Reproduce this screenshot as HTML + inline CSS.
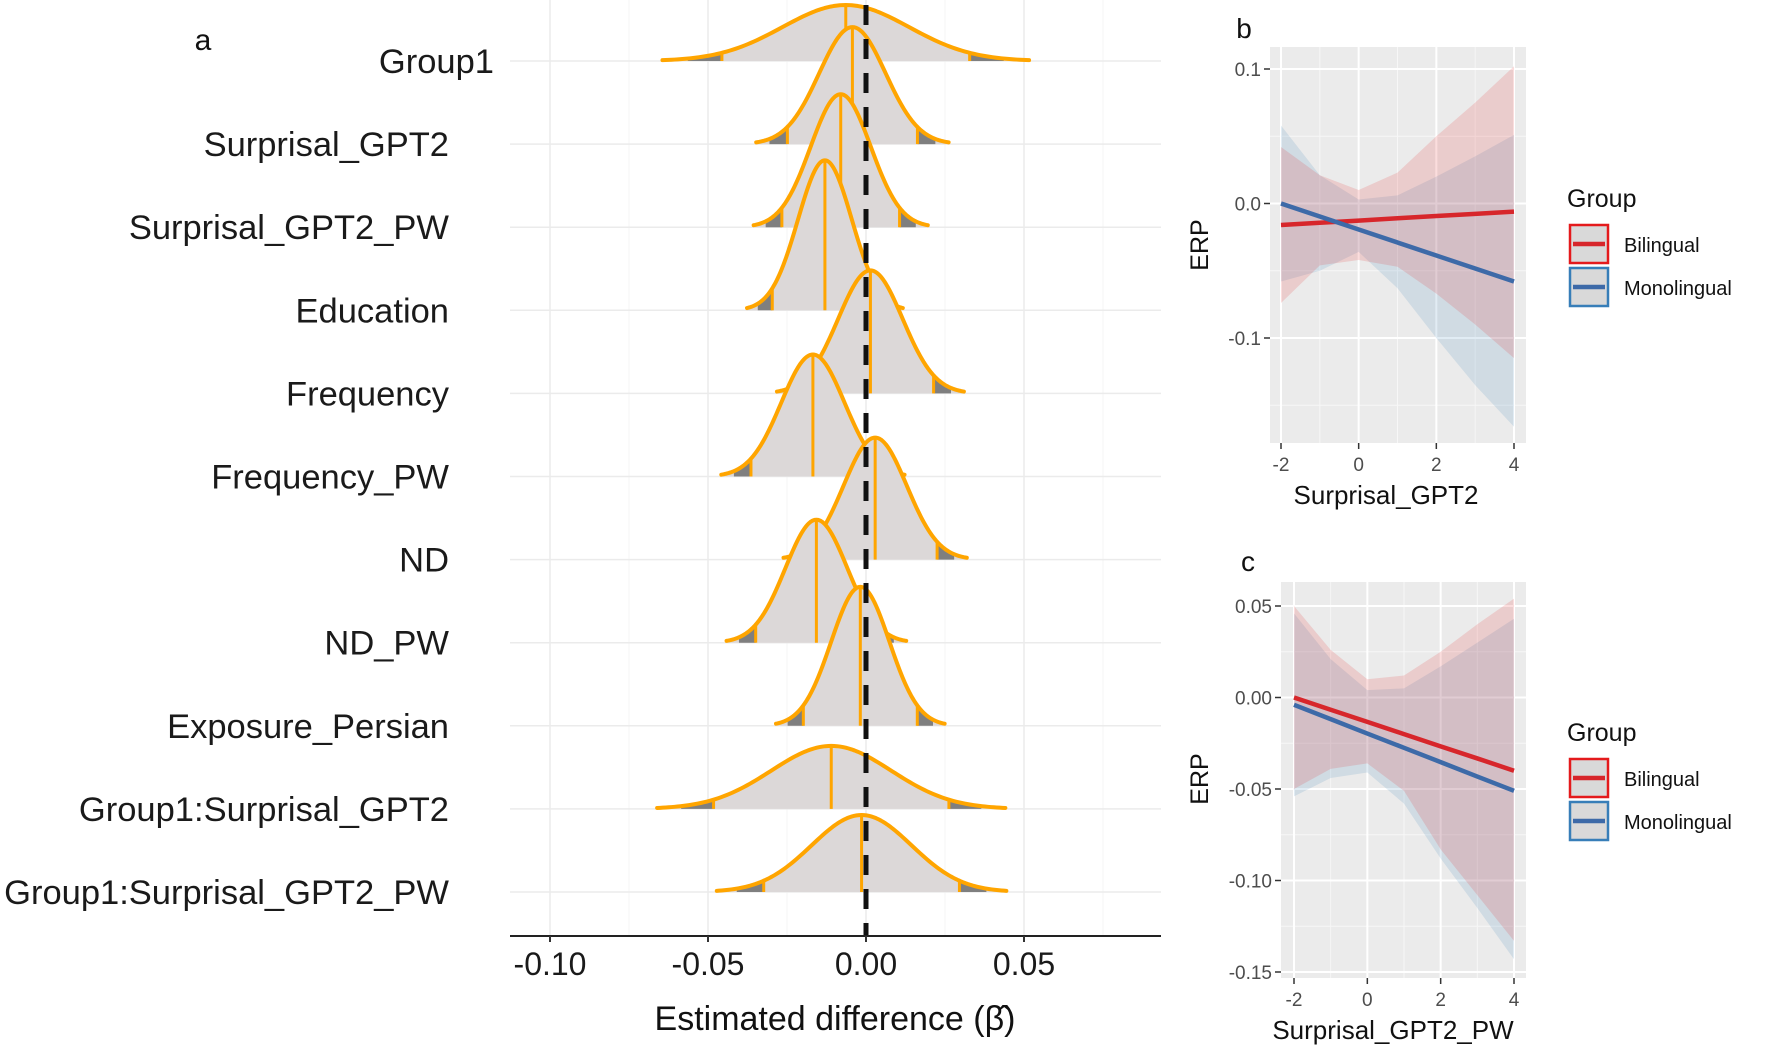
<!DOCTYPE html>
<html><head><meta charset="utf-8"><style>
html,body{margin:0;padding:0;background:#fff}
svg{display:block;font-family:"Liberation Sans",Arial,sans-serif}
</style></head><body>
<svg id="s" width="1770" height="1048" viewBox="0 0 1770 1048" xmlns="http://www.w3.org/2000/svg"></svg>
<script>
// ---- panel a data ----
const termNames = ["Group1","Surprisal_GPT2","Surprisal_GPT2_PW","Education","Frequency","Frequency_PW","ND","ND_PW","Exposure_Persian","Group1:Surprisal_GPT2","Group1:Surprisal_GPT2_PW"];
const termMeans = [-0.0064,-0.0043,-0.008,-0.013,0.0014,-0.0168,0.0029,-0.0157,-0.0018,-0.011,-0.0014];
const termSds = [0.020,0.0105,0.0095,0.0085,0.0102,0.0100,0.0100,0.0098,0.0092,0.019,0.0158];
const termPeaks = [56,117,133,150,123,122,122,123,139,63,77];
const aTicks = [-0.10,-0.05,0.00,0.05];
const aTickLabels = ["-0.10","-0.05","0.00","0.05"];
// ---- panel b data ----
const bX = [-2,-1,0,1,2,3,4];
const bRedFit = [-0.016,-0.0143,-0.0127,-0.011,-0.0093,-0.0077,-0.006];
const bRedHi = [0.042,0.021,0.010,0.023,0.050,0.075,0.102];
const bRedLo = [-0.074,-0.046,-0.042,-0.047,-0.067,-0.090,-0.115];
const bBlueFit = [0.0,-0.0097,-0.0193,-0.029,-0.0387,-0.0483,-0.058];
const bBlueHi = [0.058,0.021,0.003,0.006,0.020,0.035,0.051];
const bBlueLo = [-0.058,-0.050,-0.036,-0.063,-0.100,-0.135,-0.166];
const bYTicks = [0.1,0.0,-0.1];
const bYLabels = ["0.1","0.0","-0.1"];
// ---- panel c data ----
const cX = [-2,-1,0,1,2,3,4];
const cRedFit = [0.0,-0.0067,-0.0133,-0.020,-0.0267,-0.0333,-0.040];
const cRedHi = [0.050,0.026,0.010,0.012,0.025,0.040,0.054];
const cRedLo = [-0.050,-0.039,-0.036,-0.051,-0.083,-0.108,-0.133];
const cBlueFit = [-0.004,-0.0118,-0.0197,-0.0275,-0.0353,-0.0432,-0.051];
const cBlueHi = [0.046,0.021,0.004,0.005,0.017,0.030,0.043];
const cBlueLo = [-0.054,-0.044,-0.041,-0.058,-0.088,-0.115,-0.143];
const cYTicks = [0.05,0.00,-0.05,-0.10,-0.15];
const cYLabels = ["0.05","0.00","-0.05","-0.10","-0.15"];
const xTicksBC = [-2,0,2,4];

const NS="http://www.w3.org/2000/svg";
const svg=document.getElementById('s');
function mk(tag,attrs,parent,text){const e=document.createElementNS(NS,tag);for(const k in attrs)e.setAttribute(k,attrs[k]);if(text!==undefined)e.textContent=text;(parent||svg).appendChild(e);return e;}

// ===== Panel a =====
const ga=mk('g',{});


const ax=v=>866+v*3160;
const rowY=i=>61+i*83.1;
[-0.10,-0.075,-0.05,-0.025,0,0.025,0.05,0.075].forEach((v,i)=>{
  const major=(i%2===0);
  const l=mk('line',{x1:ax(v),x2:ax(v),y1:0,y2:936,stroke:major?'#ebebeb':'#f5f5f5','stroke-width':major?1.5:1},ga);
  
  
});
termNames.forEach((n,i)=>{
  const l=mk('line',{x1:510,x2:1161,y1:rowY(i),y2:rowY(i),stroke:'#ebebeb','stroke-width':1.5},ga);
  
  
});
termNames.forEach((n,i)=>{
  const m=termMeans[i],sd=termSds[i],h=termPeaks[i],y0=rowY(i);
  const g=mk('g',{},ga);
  
  
  const f=v=>y0-h*Math.exp(-0.5*((v-m)/sd)**2);
  const pts=[];const N=120;
  for(let k=0;k<=N;k++){const v=m-2.9*sd+5.8*sd*k/N;pts.push([ax(v),f(v)]);}
  const seg=(a,b)=>{let p=`M${ax(a)},${y0}`;const n2=40;for(let k=0;k<=n2;k++){const v=a+(b-a)*k/n2;p+=` L${ax(v)},${f(v)}`;}return p+` L${ax(b)},${y0} Z`;};
  mk('path',{d:seg(m-2.9*sd,m+2.9*sd),fill:'#dcd8d8'},g);
  mk('path',{d:seg(m-2.5*sd,m-1.96*sd),fill:'#7f7f7f'},g);
  mk('path',{d:seg(m+1.96*sd,m+2.5*sd),fill:'#7f7f7f'},g);
  [m-1.96*sd,m+1.96*sd].forEach(v=>mk('line',{x1:ax(v),x2:ax(v),y1:y0,y2:f(v),stroke:'#ffa500','stroke-width':3},g));
  const ml=mk('line',{x1:ax(m),x2:ax(m),y1:y0,y2:f(m),stroke:'#ffa500','stroke-width':3},g);
  
  
  mk('polyline',{points:pts.map(p=>p.join(',')).join(' '),fill:'none',stroke:'#ffa500','stroke-width':4,'stroke-linecap':'round','stroke-linejoin':'round'},g);
  const t=mk('text',{x:i===0?494:449,y:y0+12,'text-anchor':'end','font-size':34.5,fill:'#1a1a1a'},ga,n);
  
  
});
const zl=mk('line',{x1:ax(0),x2:ax(0),y1:5,y2:936,stroke:'#111','stroke-width':5,'stroke-dasharray':'20,14'},ga);


const axl=mk('line',{x1:510,x2:1161,y1:936,y2:936,stroke:'#222','stroke-width':2},ga);


aTicks.forEach((v,i)=>{
  mk('line',{x1:ax(v),x2:ax(v),y1:936,y2:942,stroke:'#333','stroke-width':2},ga);
  const t=mk('text',{x:ax(v),y:975,'text-anchor':'middle','font-size':32,fill:'#1a1a1a'},ga,aTickLabels[i]);
  
  
});
const at=mk('text',{x:835,y:1030,'text-anchor':'middle','font-size':34,fill:'#111'},ga,'Estimated difference (β̂)');


const la=mk('text',{x:203,y:50,'text-anchor':'middle','font-size':30,fill:'#111'},ga,'a');



// ===== Panels b & c =====
function panel(cfg){
  const g=mk('g',{});
  
  
  const sx=v=>cfg.x0+(v-(-2))*(cfg.x4-cfg.x0)/6;
  const sy=v=>cfg.yA+(v-cfg.vA)*(cfg.yB-cfg.yA)/(cfg.vB-cfg.vA);
  const bg=mk('rect',{x:cfg.L,y:cfg.T,width:cfg.R-cfg.L,height:cfg.B-cfg.T,fill:'#ebebeb'},g);
  
  
  cfg.minorY.forEach(v=>mk('line',{x1:cfg.L,x2:cfg.R,y1:sy(v),y2:sy(v),stroke:'#f7f7f7','stroke-width':1},g));
  [-1,1,3].forEach(v=>mk('line',{x1:sx(v),x2:sx(v),y1:cfg.T,y2:cfg.B,stroke:'#f7f7f7','stroke-width':1},g));
  cfg.yt.forEach(v=>mk('line',{x1:cfg.L,x2:cfg.R,y1:sy(v),y2:sy(v),stroke:'#fff','stroke-width':2},g));
  xTicksBC.forEach(v=>mk('line',{x1:sx(v),x2:sx(v),y1:cfg.T,y2:cfg.B,stroke:'#fff','stroke-width':2},g));
  const rib=(hi,lo,col,name)=>{
    let d='M'+cfg.xs.map((x,k)=>sx(x)+','+sy(hi[k])).join(' L');
    d+=' L'+cfg.xs.slice().reverse().map((x,k)=>sx(x)+','+sy(lo[lo.length-1-k])).join(' L')+' Z';
    const p=mk('path',{d,fill:col,'fill-opacity':0.15},g);
    
    
  };
  rib(cfg.bHi,cfg.bLo,'#377eb8','monolingual-ci-band');
  rib(cfg.rHi,cfg.rLo,'#e41a1c','bilingual-ci-band');
  const ln=(fit,col,name)=>{
    const p=mk('polyline',{points:cfg.xs.map((x,k)=>sx(x)+','+sy(fit[k])).join(' '),fill:'none',stroke:col,'stroke-width':4.5},g);
    
    
  };
  ln(cfg.rFit,'#d7262b','bilingual-line');
  ln(cfg.bFit,'#3d6aa8','monolingual-line');
  cfg.yt.forEach((v,i)=>{
    mk('line',{x1:cfg.L-6,x2:cfg.L,y1:sy(v),y2:sy(v),stroke:'#333','stroke-width':1.5},g);
    const t=mk('text',{x:cfg.L-9,y:sy(v)+7,'text-anchor':'end','font-size':19,fill:'#4d4d4d'},g,cfg.yl[i]);
    
    
  });
  xTicksBC.forEach(v=>{
    mk('line',{x1:sx(v),x2:sx(v),y1:cfg.B,y2:cfg.B+6,stroke:'#333','stroke-width':1.5},g);
    const t=mk('text',{x:sx(v),y:cfg.B+28,'text-anchor':'middle','font-size':19,fill:'#4d4d4d'},g,String(v));
    
    
  });
  const xt=mk('text',{x:cfg.xtX,y:cfg.xtY,'text-anchor':'middle','font-size':26,fill:'#111'},g,cfg.xTitle);
  
  
  const yt=mk('text',{x:0,y:0,'text-anchor':'middle','font-size':25,fill:'#111',transform:`translate(1208,${cfg.ytY}) rotate(-90)`},g,'ERP');
  
  
  const pl=mk('text',{x:cfg.plX,y:cfg.plY,'text-anchor':'middle','font-size':28,fill:'#111'},g,cfg.id);
  
  
  const lg=mk('g',{},g);
  
  
  const gt=mk('text',{x:1567,y:cfg.lgY,'font-size':25,fill:'#111'},lg,'Group');
  
  
  [['Bilingual','#e41a1c','#d7262b'],['Monolingual','#377eb8','#3d6aa8']].forEach((e,k)=>{
    const y=cfg.lgY+18+k*43;
    const ge=mk('g',{},lg);
    
    
    mk('rect',{x:1570,y:y,width:38,height:38,fill:'#d9d9d9',stroke:e[1],'stroke-width':2.5},ge);
    mk('line',{x1:1573,x2:1605,y1:y+19,y2:y+19,stroke:e[2],'stroke-width':4.5},ge);
    mk('text',{x:1624,y:y+27,'font-size':20,fill:'#111'},ge,e[0]);
  });
}
panel({id:'b',L:1270,R:1526,T:47,B:443,x0:1281,x4:1514,yA:69,vA:0.1,yB:338,vB:-0.1,
  xs:bX,rFit:bRedFit,rHi:bRedHi,rLo:bRedLo,bFit:bBlueFit,bHi:bBlueHi,bLo:bBlueLo,
  yt:bYTicks,yl:bYLabels,minorY:[0.05,-0.05,-0.15],xTitle:'Surprisal_GPT2',xtX:1386,xtY:504,ytY:245,plX:1244,plY:38,lgY:207});
panel({id:'c',L:1281,R:1526,T:582,B:978,x0:1294,x4:1514,yA:606,vA:0.05,yB:972,vB:-0.15,
  xs:cX,rFit:cRedFit,rHi:cRedHi,rLo:cRedLo,bFit:cBlueFit,bHi:cBlueHi,bLo:cBlueLo,
  yt:cYTicks,yl:cYLabels,minorY:[0.025,-0.025,-0.075,-0.125],xTitle:'Surprisal_GPT2_PW',xtX:1393,xtY:1039,ytY:779,plX:1248,plY:571,lgY:741});
</script>
</body></html>
